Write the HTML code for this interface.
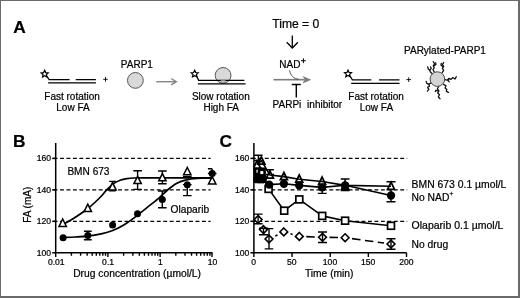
<!DOCTYPE html>
<html><head><meta charset="utf-8"><title>Figure</title>
<style>
html,body{margin:0;padding:0;background:#fff;}
body{width:520px;height:298px;overflow:hidden;position:relative;}
#fig{position:absolute;left:0;top:0;width:520px;height:298px;box-sizing:border-box;border-style:solid;border-color:#6a6a6a;border-width:1px 2px 2px 1px;background:#fff;}
svg{position:absolute;left:0;top:0;filter:blur(0.35px);}
text{font-family:"Liberation Sans", Arial, Helvetica, sans-serif;fill:#000;stroke:#000;stroke-width:0.22px;}
</style></head><body>
<div id="fig"></div>
<svg width="520" height="298" viewBox="0 0 520 298">
<text x="13.2" y="32.7" font-size="17.3" text-anchor="start" font-weight="bold" stroke-width="0.5">A</text>
<text x="13.0" y="147.2" font-size="17.3" text-anchor="start" font-weight="bold" stroke-width="0.5">B</text>
<text x="219.4" y="147.2" font-size="17.3" text-anchor="start" font-weight="bold" stroke-width="0.5">C</text>
<g stroke="#000" stroke-width="1.25" fill="none">
<path d="M46.7 76.2 L49.2 79.7 L69.6 79.7 M75.7 79.7 L95.9 79.7 M48.1 82.9 L95.9 82.9"/>
</g>
<polygon points="44.70,70.30 45.73,72.58 48.22,72.86 46.36,74.54 46.87,76.99 44.70,75.75 42.53,76.99 43.04,74.54 41.18,72.86 43.67,72.58" fill="#fff" stroke="#000" stroke-width="1.2" stroke-linejoin="miter"/>
<text x="72.1" y="99.6" font-size="10" text-anchor="middle" >Fast rotation</text>
<text x="73.0" y="111.4" font-size="10" text-anchor="middle" >Low FA</text>
<path d="M103.2 79.3H107.8M105.5 77V81.6" stroke="#000" stroke-width="0.9" fill="none"/>
<text x="136.9" y="68.0" font-size="10" text-anchor="middle" >PARP1</text>
<circle cx="135.4" cy="80.4" r="7.9" fill="#d9d9d9" stroke="#555" stroke-width="1"/>
<g stroke="#858585" stroke-width="1.4" fill="none"><path d="M156.3 81.7H176"/><path d="M171.2 78.5L176.3 81.7L171.2 84.9"/></g>
<circle cx="223.1" cy="75.4" r="7.9" fill="#d9d9d9" stroke="#555" stroke-width="1"/>
<g stroke="#000" stroke-width="1.25" fill="none"><path d="M196.7 76.1 L198.6 80.3 L244.4 80.3 M197.8 83.8 L245.6 83.8"/></g>
<path d="M220.9 80.3 L225.3 80.3 L225.0 82.6 L221.2 82.6 Z" fill="#d0d0d0" stroke="#666" stroke-width="0.5"/>
<polygon points="194.70,70.20 195.73,72.48 198.22,72.76 196.36,74.44 196.87,76.89 194.70,75.65 192.53,76.89 193.04,74.44 191.18,72.76 193.67,72.48" fill="#fff" stroke="#000" stroke-width="1.2" stroke-linejoin="miter"/>
<text x="220.8" y="99.7" font-size="10" text-anchor="middle" >Slow rotation</text>
<text x="221.2" y="111.3" font-size="10" text-anchor="middle" >High FA</text>
<text x="272.3" y="28" font-size="12" text-anchor="start" textLength="47.0" lengthAdjust="spacingAndGlyphs" >Time = 0</text>
<g stroke="#000" stroke-width="1.3" fill="none"><path d="M292.3 35.5V47.6"/><path d="M286.7 42.2L292.3 48L297.9 42.2"/></g>
<text x="279.3" y="67.7" font-size="10" text-anchor="start" >NAD</text>
<path d="M301.0 60.7H305.8M303.4 58.3V63.1" stroke="#000" stroke-width="1.0" fill="none"/>
<path d="M273.5 79.7H304.5" stroke="#7c7c7c" stroke-width="1.6" fill="none"/>
<path d="M311.2 79.7L302.6 75.9L304.6 79.7L302.6 83.5Z" fill="#7c7c7c"/>
<path d="M289.6 70.3C290.5 75.5 293.5 78.8 298.8 79.2" stroke="#444" stroke-width="0.9" fill="none"/>
<path d="M291.8 84.5H300.8M296.3 84.5V97.4" stroke="#000" stroke-width="1.4" fill="none"/>
<text x="272.6" y="107.6" font-size="10" text-anchor="start" >PARPi</text>
<text x="307.1" y="107.6" font-size="10" text-anchor="start" >inhibitor</text>
<g stroke="#000" stroke-width="1.25" fill="none">
<path d="M350.0 76.0 L352.4 79.8 L371.3 79.8 M379.1 79.8 L399.5 79.8 M351.2 83.4 L399.5 83.4"/>
</g>
<polygon points="348.00,70.10 349.03,72.38 351.52,72.66 349.66,74.34 350.17,76.79 348.00,75.55 345.83,76.79 346.34,74.34 344.48,72.66 346.97,72.38" fill="#fff" stroke="#000" stroke-width="1.2" stroke-linejoin="miter"/>
<text x="376.1" y="99.5" font-size="10" text-anchor="middle" >Fast rotation</text>
<text x="376.4" y="111.1" font-size="10" text-anchor="middle" >Low FA</text>
<path d="M406.4 79.6H411M408.7 77.3V81.9" stroke="#000" stroke-width="0.9" fill="none"/>
<text x="445.0" y="53.9" font-size="10" text-anchor="middle" >PARylated-PARP1</text>
<g stroke="#111" stroke-width="1.3" fill="none" stroke-linejoin="round" stroke-linecap="round">
<polyline points="432.11,73.43 430.34,71.95 429.75,70.18 428.27,69.00 427.68,66.93"/>
<polyline points="429.75,70.18 431.23,68.41 430.64,66.93"/>
<polyline points="434.33,71.95 433.00,69.59 434.18,67.82 433.29,65.75 434.77,63.98 433.29,61.61"/>
<polyline points="434.18,65.75 435.95,64.57 435.66,62.79"/>
<polyline points="442.16,72.54 443.63,70.48 442.45,68.41 443.63,66.34 442.45,64.57 443.63,62.50"/>
<polyline points="442.75,66.34 440.97,65.16 441.27,63.39"/>
<polyline points="444.82,79.63 447.18,80.22 448.95,78.45 451.02,79.34 452.79,77.57 454.86,79.04 456.34,76.68"/>
<polyline points="448.95,78.75 448.06,80.82 449.25,81.70"/>
<polyline points="443.63,84.36 446.00,85.84 445.11,87.91 446.88,89.38 446.29,91.16 448.36,92.34"/>
<polyline points="438.61,86.43 437.43,88.79 438.91,90.86 437.73,92.93 439.50,94.70 438.32,96.77 440.09,98.84"/>
<polyline points="437.73,90.86 435.95,90.27 435.36,91.45"/>
<polyline points="431.23,82.88 428.86,84.06 429.45,86.13 427.68,87.31 428.86,89.38 427.39,91.16"/>
<polyline points="428.57,84.36 426.79,83.18 426.20,81.41"/>
</g>
<circle cx="437.4" cy="79.1" r="7.3" fill="#d4d4d4" stroke="#444" stroke-width="1"/>
<g stroke="#000" stroke-width="1.25" stroke-dasharray="3.9 2.55" fill="none">
<path d="M53.6 158.40H210.6"/>
<path d="M251.9 158.40H407.2"/>
<path d="M53.6 189.87H210.6"/>
<path d="M251.9 189.87H407.2"/>
<path d="M53.6 221.33H210.6"/>
<path d="M251.9 221.33H407.2"/>
</g>
<g stroke="#000" stroke-width="1.5" fill="none">
<path d="M55.7 143V252.7H212.5"/>
<path d="M52.2 158.40H55.7"/>
<path d="M52.2 189.87H55.7"/>
<path d="M52.2 221.33H55.7"/>
<path d="M52.2 252.80H55.7"/>
<path d="M55.70 252.7V257.0M71.41 252.7V255.7M80.61 252.7V255.7M87.13 252.7V255.7M92.19 252.7V255.7M96.32 252.7V255.7M99.81 252.7V255.7M102.84 252.7V255.7M105.51 252.7V255.7M107.90 252.7V257.0M123.61 252.7V255.7M132.81 252.7V255.7M139.33 252.7V255.7M144.39 252.7V255.7M148.52 252.7V255.7M152.01 252.7V255.7M155.04 252.7V255.7M157.71 252.7V255.7M160.10 252.7V257.0M175.81 252.7V255.7M185.01 252.7V255.7M191.53 252.7V255.7M196.59 252.7V255.7M200.72 252.7V255.7M204.21 252.7V255.7M207.24 252.7V255.7M209.91 252.7V255.7M212.00 252.7V257.0" stroke-width="1.4"/>
</g>
<text x="51.0" y="161.20000000000002" font-size="8.6" text-anchor="end" >160</text>
<text x="51.0" y="192.66666666666669" font-size="8.6" text-anchor="end" >140</text>
<text x="51.0" y="224.13333333333335" font-size="8.6" text-anchor="end" >120</text>
<text x="51.0" y="255.60000000000002" font-size="8.6" text-anchor="end" >100</text>
<text x="56.300000000000004" y="265.3" font-size="8.6" text-anchor="middle" >0.01</text>
<text x="108.10000000000001" y="265.3" font-size="8.6" text-anchor="middle" >0.1</text>
<text x="160.3" y="265.3" font-size="8.6" text-anchor="middle" >1</text>
<text x="212.5" y="265.3" font-size="8.6" text-anchor="middle" >10</text>
<text x="73.2" y="277.2" font-size="10.3" text-anchor="start" textLength="127.8" lengthAdjust="spacingAndGlyphs" >Drug concentration (µmol/L)</text>
<text transform="translate(30.6 204.8) rotate(-90)" font-size="10" text-anchor="middle">FA (mA)</text>
<text x="67.4" y="174.5" font-size="10.1" text-anchor="start" >BMN 673</text>
<text x="170.6" y="212.9" font-size="10.2" text-anchor="start" >Olaparib</text>
<path d="M62.00 224.90C63.77 223.92 68.28 221.73 72.60 219.00C76.92 216.27 83.33 212.08 87.90 208.50C92.47 204.92 96.87 200.62 100.00 197.50C103.13 194.38 104.45 192.12 106.70 189.80C108.95 187.48 111.25 185.20 113.50 183.60C115.75 182.00 117.97 181.03 120.20 180.20C122.43 179.37 124.67 178.97 126.90 178.60C129.13 178.23 129.75 178.12 133.60 178.00C137.45 177.88 136.93 177.92 150.00 177.90C163.07 177.88 201.67 177.90 212.00 177.90" stroke="#000" stroke-width="1.7" fill="none"/>
<path d="M63.10 237.40C65.08 237.33 70.97 237.20 75.00 237.00C79.03 236.80 82.93 236.72 87.30 236.20C91.67 235.68 96.97 234.85 101.20 233.90C105.43 232.95 108.87 232.03 112.70 230.50C116.53 228.97 120.35 227.02 124.20 224.70C128.05 222.38 131.95 219.50 135.80 216.60C139.65 213.70 143.45 210.38 147.30 207.30C151.15 204.22 155.43 201.07 158.90 198.10C162.37 195.13 165.10 191.98 168.10 189.50C171.10 187.02 173.87 184.82 176.90 183.20C179.93 181.58 182.93 180.62 186.30 179.80C189.67 178.98 192.82 178.62 197.10 178.30C201.38 177.98 209.52 177.97 212.00 177.90" stroke="#000" stroke-width="1.7" fill="none"/>
<path d="M87.8 231.2V239.8M83.89999999999999 231.2H91.7M83.89999999999999 239.8H91.7" stroke="#000" stroke-width="1.4" fill="none"/>
<path d="M162.3 191.0V207.8M158.0 191.0H166.60000000000002M158.0 207.8H166.60000000000002" stroke="#000" stroke-width="1.4" fill="none"/>
<path d="M187.3 184.6V195.6M183.0 184.6H191.60000000000002M183.0 195.6H191.60000000000002" stroke="#000" stroke-width="1.4" fill="none"/>
<path d="M212.2 168.7V173.5M207.89999999999998 168.7H212.2M207.89999999999998 173.5H216.5" stroke="#000" stroke-width="1.4" fill="none"/>
<circle cx="63.1" cy="237.7" r="3.5" fill="#000"/>
<circle cx="87.8" cy="235.5" r="3.5" fill="#000"/>
<circle cx="112.6" cy="225.1" r="3.5" fill="#000"/>
<circle cx="137.5" cy="213.8" r="3.5" fill="#000"/>
<circle cx="162.3" cy="199.6" r="3.5" fill="#000"/>
<circle cx="187.3" cy="184.7" r="3.5" fill="#000"/>
<circle cx="212.2" cy="173.6" r="3.5" fill="#000"/>
<path d="M112.5 181.4V190.9M109.2 181.4H115.8M109.2 190.9H115.8" stroke="#000" stroke-width="1.4" fill="none"/>
<path d="M137.6 170.8V189.4M133.29999999999998 170.8H141.9M133.29999999999998 189.4H141.9" stroke="#000" stroke-width="1.4" fill="none"/>
<path d="M162.4 171.0V183.7M158.1 171.0H166.70000000000002M158.1 183.7H166.70000000000002" stroke="#000" stroke-width="1.4" fill="none"/>
<path d="M183 176.6H191.6" stroke="#000" stroke-width="1.4"/>
<path d="M62.7 219.00L66.4 226.45H59.0Z" fill="#fff" stroke="#000" stroke-width="1.5" stroke-linejoin="miter" stroke-miterlimit="10"/>
<path d="M87.8 204.20L91.5 211.55H84.1Z" fill="#fff" stroke="#000" stroke-width="1.5" stroke-linejoin="miter" stroke-miterlimit="10"/>
<path d="M112.5 182.70L116.2 190.05H108.8Z" fill="#fff" stroke="#000" stroke-width="1.5" stroke-linejoin="miter" stroke-miterlimit="10"/>
<path d="M137.6 176.30L141.29999999999998 183.55H133.9Z" fill="#fff" stroke="#000" stroke-width="1.5" stroke-linejoin="miter" stroke-miterlimit="10"/>
<path d="M162.4 173.60L166.1 180.85H158.70000000000002Z" fill="#fff" stroke="#000" stroke-width="1.5" stroke-linejoin="miter" stroke-miterlimit="10"/>
<path d="M187.3 167.50L191.0 174.75H183.60000000000002Z" fill="#fff" stroke="#000" stroke-width="1.5" stroke-linejoin="miter" stroke-miterlimit="10"/>
<path d="M212.2 176.70L215.89999999999998 183.95H208.5Z" fill="#fff" stroke="#000" stroke-width="1.5" stroke-linejoin="miter" stroke-miterlimit="10"/>
<g stroke="#000" stroke-width="1.5" fill="none">
<path d="M253.9 143V252.7H406.6"/>
<path d="M250.4 158.40H253.9"/>
<path d="M250.4 189.87H253.9"/>
<path d="M250.4 221.33H253.9"/>
<path d="M250.4 252.80H253.9"/>
<path d="M253.90 252.7V257.0M292.05 252.7V257.0M330.20 252.7V257.0M368.35 252.7V257.0M406.50 252.7V257.0" stroke-width="1.4"/>
</g>
<text x="249.4" y="161.20000000000002" font-size="8.6" text-anchor="end" >160</text>
<text x="249.4" y="192.66666666666669" font-size="8.6" text-anchor="end" >140</text>
<text x="249.4" y="224.13333333333335" font-size="8.6" text-anchor="end" >120</text>
<text x="249.4" y="255.60000000000002" font-size="8.6" text-anchor="end" >100</text>
<text x="253.70000000000002" y="265.3" font-size="8.6" text-anchor="middle" >0</text>
<text x="291.85" y="265.3" font-size="8.6" text-anchor="middle" >50</text>
<text x="330.0" y="265.3" font-size="8.6" text-anchor="middle" >100</text>
<text x="368.15000000000003" y="265.3" font-size="8.6" text-anchor="middle" >150</text>
<text x="406.3" y="265.3" font-size="8.6" text-anchor="middle" >200</text>
<text x="304.9" y="277.3" font-size="10.3" text-anchor="start" textLength="48.6" lengthAdjust="spacingAndGlyphs" >Time (min)</text>
<clipPath id="cc"><rect x="253.3" y="140" width="200" height="120"/></clipPath><g clip-path="url(#cc)">
<polyline points="257.6,171.2 261.8,172.6 268.6,188.9 284.2,210.7 299.3,199.4 322.2,215.9 345.1,220.7 391,225.8" stroke="#000" stroke-width="1.6" fill="none" stroke-linejoin="round"/>
<polyline points="256.6,179.2 259.6,179.4 262.8,179.4 269.2,184.6 283.9,183.8 299.2,185.4 322.1,187.4 345.1,185.3 391,195.5" stroke="#000" stroke-width="1.6" fill="none" stroke-linejoin="round"/>
<path d="M275.31 235.97L277.49 234.93" stroke="#000" stroke-width="1.6"/>
<path d="M290.52 233.85L292.58 234.45" stroke="#000" stroke-width="1.6"/>
<path d="M306.29 236.67L314.79 237.00" stroke="#000" stroke-width="1.6"/>
<path d="M329.50 237.42L338.00 237.57" stroke="#000" stroke-width="1.6"/>
<path d="M352.03 238.65L360.46 239.81" stroke="#000" stroke-width="1.6"/>
<path d="M364.91 240.42L373.34 241.58" stroke="#000" stroke-width="1.6"/>
<path d="M377.79 242.19L384.07 243.05" stroke="#000" stroke-width="1.6"/>
<path d="M258.4 155.3V160.5M254.2 155.3H262.59999999999997M254.2 160.5H262.59999999999997" stroke="#000" stroke-width="1.4" fill="none"/>
<path d="M269.9 169.7V174.5M265.9 169.7H273.9M265.9 174.5H273.9" stroke="#000" stroke-width="1.4" fill="none"/>
<path d="M322.2 187.1V193.4M317.8 187.1H326.59999999999997M317.8 193.4H326.59999999999997" stroke="#000" stroke-width="1.4" fill="none"/>
<path d="M345.1 179.0V190.6M340.70000000000005 179.0H349.5M340.70000000000005 190.6H349.5" stroke="#000" stroke-width="1.4" fill="none"/>
<path d="M391 181.8V201.7M386.5 181.8H395.5M386.5 201.7H395.5" stroke="#000" stroke-width="1.4" fill="none"/>
<rect x="254.8" y="168.39999999999998" width="5.6" height="5.6" fill="#fff" stroke="#000" stroke-width="2.6"/>
<rect x="259.0" y="169.79999999999998" width="5.6" height="5.6" fill="#fff" stroke="#000" stroke-width="2.6"/>
<rect x="265.15000000000003" y="185.45000000000002" width="6.9" height="6.9" fill="#fff" stroke="#000" stroke-width="1.7"/>
<rect x="280.75" y="207.25" width="6.9" height="6.9" fill="#fff" stroke="#000" stroke-width="1.7"/>
<rect x="295.85" y="195.95000000000002" width="6.9" height="6.9" fill="#fff" stroke="#000" stroke-width="1.7"/>
<rect x="318.75" y="212.45000000000002" width="6.9" height="6.9" fill="#fff" stroke="#000" stroke-width="1.7"/>
<rect x="341.65000000000003" y="217.25" width="6.9" height="6.9" fill="#fff" stroke="#000" stroke-width="1.7"/>
<rect x="387.55" y="222.35000000000002" width="6.9" height="6.9" fill="#fff" stroke="#000" stroke-width="1.7"/>
<path d="M254.5 168.2H266.0M254.5 175.6H266.2M254.5 177H266.4" stroke="#000" stroke-width="1.6"/>
<rect x="254.2" y="165.5" width="2.2" height="16" fill="#000"/>
<path d="M257.0 160.80L260.5 168.03H253.5Z" fill="#fff" stroke="#000" stroke-width="1.75" stroke-linejoin="miter" stroke-miterlimit="10"/>
<path d="M261.4 156.80L264.9 164.03H257.9Z" fill="#fff" stroke="#000" stroke-width="1.75" stroke-linejoin="miter" stroke-miterlimit="10"/>
<path d="M269.9 170.90L273.4 178.12H266.4Z" fill="#fff" stroke="#000" stroke-width="1.75" stroke-linejoin="miter" stroke-miterlimit="10"/>
<path d="M283.9 172.50L287.4 179.73H280.4Z" fill="#fff" stroke="#000" stroke-width="1.75" stroke-linejoin="miter" stroke-miterlimit="10"/>
<path d="M299.2 175.00L302.7 182.23H295.7Z" fill="#fff" stroke="#000" stroke-width="1.75" stroke-linejoin="miter" stroke-miterlimit="10"/>
<path d="M322.1 177.10L325.6 184.33H318.6Z" fill="#fff" stroke="#000" stroke-width="1.75" stroke-linejoin="miter" stroke-miterlimit="10"/>
<path d="M345.1 181.80L348.6 189.03H341.6Z" fill="#000" stroke="#000" stroke-width="1.75" stroke-linejoin="miter" stroke-miterlimit="10"/>
<path d="M391 182.20L394.5 189.43H387.5Z" fill="#fff" stroke="#000" stroke-width="1.75" stroke-linejoin="miter" stroke-miterlimit="10"/>
<polyline points="257.0,164.6 261.4,160.6 269.9,175.0 283.9,176.6 299.2,179.3 322.1,181.5 345.1,185.4 391,186.2" stroke="#000" stroke-width="1.6" fill="none" stroke-linejoin="round"/>
<circle cx="256.6" cy="179.2" r="4.15" fill="#000"/>
<circle cx="259.6" cy="179.4" r="4.15" fill="#000"/>
<circle cx="262.8" cy="179.4" r="4.15" fill="#000"/>
<circle cx="269.2" cy="184.6" r="4.15" fill="#000"/>
<circle cx="283.9" cy="183.8" r="4.15" fill="#000"/>
<circle cx="299.2" cy="185.4" r="4.15" fill="#000"/>
<circle cx="322.1" cy="187.4" r="4.15" fill="#000"/>
<circle cx="345.1" cy="185.3" r="4.15" fill="#000"/>
<circle cx="391" cy="195.5" r="4.15" fill="#000"/>
<path d="M258.1 215.6L262.0 219.5L258.1 223.4L254.20000000000002 219.5Z" fill="#fff" stroke="#000" stroke-width="1.6"/>
<path d="M263.5 225.7L267.4 229.6L263.5 233.5L259.6 229.6Z" fill="#fff" stroke="#000" stroke-width="1.6"/>
<path d="M269.0 235.1L272.9 239.0L269.0 242.9L265.1 239.0Z" fill="#fff" stroke="#000" stroke-width="1.6"/>
<path d="M283.8 228.0L287.7 231.9L283.8 235.8L279.90000000000003 231.9Z" fill="#fff" stroke="#000" stroke-width="1.6"/>
<path d="M299.3 232.5L303.2 236.4L299.3 240.3L295.40000000000003 236.4Z" fill="#fff" stroke="#000" stroke-width="1.6"/>
<path d="M322.5 233.4L326.4 237.3L322.5 241.20000000000002L318.6 237.3Z" fill="#fff" stroke="#000" stroke-width="1.6"/>
<path d="M345.1 233.79999999999998L349.0 237.7L345.1 241.6L341.20000000000005 237.7Z" fill="#fff" stroke="#000" stroke-width="1.6"/>
<path d="M391 240.1L394.9 244.0L391 247.9L387.1 244.0Z" fill="#fff" stroke="#000" stroke-width="1.6"/>
<path d="M258.1 214.1V223.8M253.60000000000002 214.1H262.6M253.60000000000002 223.8H262.6" stroke="#000" stroke-width="1.4" fill="none"/>
<path d="M263.5 228.3V234.8M258.9 228.3H268.1M258.9 234.8H268.1" stroke="#000" stroke-width="1.4" fill="none"/>
<path d="M269.0 228.6V248.9M264.7 228.6H273.3M264.7 248.9H273.3" stroke="#000" stroke-width="1.4" fill="none"/>
<path d="M322.5 232.0V242.5M318.0 232.0H327.0M318.0 242.5H327.0" stroke="#000" stroke-width="1.4" fill="none"/>
<path d="M391 238.7V249.3M386.5 238.7H395.5M386.5 249.3H395.5" stroke="#000" stroke-width="1.4" fill="none"/>
</g>
<text x="411.6" y="188.4" font-size="10.3" text-anchor="start" textLength="94.8" lengthAdjust="spacingAndGlyphs" >BMN 673 0.1 µmol/L</text>
<text x="411.6" y="201.0" font-size="10.3" text-anchor="start" >No NAD</text>
<path d="M449.6 193.6H453.2M451.4 191.8V195.4" stroke="#000" stroke-width="0.7" fill="none"/>
<text x="411.6" y="228.5" font-size="10.3" text-anchor="start" textLength="91.8" lengthAdjust="spacingAndGlyphs" >Olaparib 0.1 µmol/L</text>
<text x="411.6" y="247.6" font-size="10.3" text-anchor="start" >No drug</text>
</svg>
</body></html>
